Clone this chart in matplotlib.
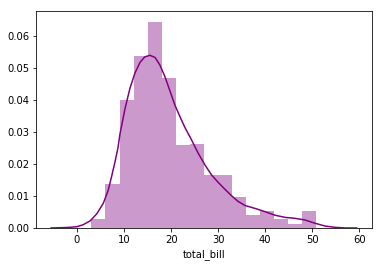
import numpy as np
import matplotlib
matplotlib.use('Agg')
import matplotlib.pyplot as plt

# histogram of total_bill (16 bins, counts per bin)
bin_edges = [3.07, 6.05, 9.04, 12.02, 15.00, 17.99, 20.97, 23.96, 26.94,
             29.92, 32.91, 35.89, 38.88, 41.86, 44.84, 47.83, 50.81]
bin_counts = [2, 10, 29, 39, 47, 34, 19, 19, 12, 12, 7, 3, 4, 2, 1, 4]

# kde curve
kde_x = [-5.5, -3.0, -1.5, 0.0, 1.3, 2.8, 4.2, 5.6, 6.65, 7.35, 8.05, 8.7,
         9.15, 10.2, 11.25, 12.3, 13.4, 14.4, 15.5, 16.6, 17.6, 18.7, 19.75,
         20.8, 21.9, 22.9, 24.35, 25.75, 27.2, 28.6, 30.0, 31.4, 32.8, 34.2,
         35.7, 37.8, 39.9, 42.0, 44.2, 46.3, 48.4, 50.5, 52.7, 54.8, 57.0,
         59.4]
kde_y = [0.0001, 0.0002, 0.0003, 0.0005, 0.0011, 0.0023, 0.0045, 0.0078,
         0.0119, 0.0161, 0.0205, 0.0250, 0.0295, 0.0372, 0.0436, 0.0483,
         0.0517, 0.0534, 0.0539, 0.0532, 0.0509, 0.0472, 0.0428, 0.0384,
         0.0347, 0.0315, 0.0275, 0.0234, 0.0197, 0.0166, 0.0143, 0.0122,
         0.0102, 0.0084, 0.0071, 0.0062, 0.0052, 0.0041, 0.0034, 0.0031,
         0.0026, 0.0016, 0.0007, 0.0003, 0.0001, 0.0001]

fig = plt.figure(figsize=(381 / 72, 267 / 72), dpi=72)
ax = fig.add_axes([0.0945, 0.145, 0.881, 0.815])

centers = [(a + b) / 2 for a, b in zip(bin_edges[:-1], bin_edges[1:])]
ax.hist(centers, bins=bin_edges, weights=bin_counts, density=True,
        color='purple', alpha=0.4)
ax.plot(kde_x, kde_y, color='purple', lw=1.5)

ax.set_xlim(-8.7, 62.6)
ax.set_ylim(0, 0.0678)
ax.set_xticks([0, 10, 20, 30, 40, 50, 60])
ax.set_yticks(np.arange(0, 0.061, 0.01))
ax.set_xlabel('total_bill')

fig.savefig('out.png', dpi=72)
